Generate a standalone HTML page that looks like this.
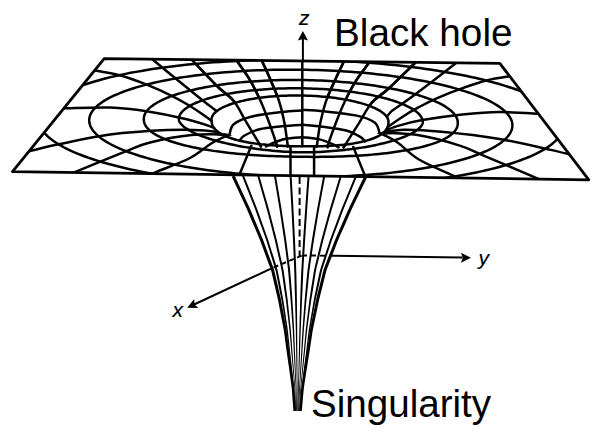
<!DOCTYPE html>
<html><head><meta charset="utf-8"><style>
html,body{margin:0;padding:0;background:#fff;}
body{width:600px;height:437px;position:relative;overflow:hidden;}
svg{position:absolute;left:0;top:0;}
.t{position:absolute;font-family:"Liberation Sans",sans-serif;color:#000;line-height:1;white-space:nowrap;}
.it{font-style:italic;}
.lb{-webkit-text-stroke:0.15px #000;}
</style></head><body>
<svg width="600" height="437" viewBox="0 0 600 437">
<defs><clipPath id="q"><path d="M104.2,58.7 L499.8,63.3 L588.8,179.8 L12.5,171.7 Z"/></clipPath>
<mask id="m"><rect x="0" y="0" width="600" height="437" fill="#fff"/><path d="M387.30,121.75 L387.27,123.01 L387.18,124.00 L387.03,124.90 L386.82,125.75 L386.55,126.56 L386.23,127.34 L385.84,128.09 L385.39,128.82 L384.89,129.53 L384.33,130.22 L383.70,130.89 L383.03,131.55 L382.29,132.19 L381.50,132.81 L380.65,133.42 L379.75,134.01 L378.80,134.58 L377.78,135.14 L376.72,135.69 L375.60,136.22 L374.44,136.73 L373.22,137.23 L371.95,137.71 L370.63,138.18 L369.26,138.63 L367.84,139.07 L366.38,139.50 L364.88,139.90 L363.33,140.29 L361.73,140.67 L360.09,141.03 L358.42,141.38 L356.70,141.71 L354.94,142.02 L353.14,142.32 L351.31,142.60 L349.45,142.87 L347.55,143.12 L345.61,143.36 L343.65,143.58 L341.66,143.78 L339.63,143.97 L337.58,144.15 L335.51,144.31 L333.41,144.46 L331.29,144.59 L329.14,144.70 L326.98,144.81 L324.79,144.89 L322.59,144.97 L320.38,145.03 L318.15,145.08 L315.91,145.12 L313.66,145.15 L311.39,145.16 L309.13,145.16 L306.85,145.16 L304.57,145.15 L302.29,145.13 L300.00,145.10 L297.71,145.07 L295.43,145.04 L293.15,145.00 L290.87,144.95 L288.61,144.89 L286.34,144.82 L284.09,144.74 L281.85,144.65 L279.62,144.54 L277.41,144.43 L275.21,144.30 L273.02,144.16 L270.86,144.00 L268.71,143.84 L266.59,143.65 L264.49,143.46 L262.42,143.25 L260.37,143.02 L258.34,142.78 L256.35,142.53 L254.39,142.26 L252.45,141.98 L250.55,141.68 L248.69,141.37 L246.86,141.04 L245.06,140.70 L243.30,140.35 L241.58,139.98 L239.91,139.59 L238.27,139.19 L236.67,138.77 L235.12,138.35 L233.62,137.90 L232.16,137.44 L230.74,136.97 L229.37,136.49 L228.05,135.99 L226.78,135.47 L225.56,134.94 L224.40,134.40 L223.28,133.84 L222.22,133.27 L221.20,132.69 L220.25,132.09 L219.35,131.48 L218.50,130.85 L217.71,130.21 L216.97,129.56 L216.30,128.89 L215.67,128.20 L215.11,127.50 L214.61,126.77 L214.16,126.03 L213.77,125.27 L213.45,124.48 L213.18,123.67 L212.97,122.81 L212.82,121.91 L212.73,120.92 L212.70,119.65 L212.73,119.02 L212.82,118.40 L212.97,117.77 L213.18,117.15 L213.45,116.53 L213.77,115.91 L214.16,115.30 L214.61,114.69 L215.11,114.08 L215.67,113.48 L216.30,112.88 L216.97,112.29 L217.71,111.70 L218.50,111.12 L219.35,110.55 L220.25,109.98 L221.20,109.42 L222.22,108.87 L223.28,108.33 L224.40,107.79 L225.56,107.27 L226.78,106.75 L228.05,106.24 L229.37,105.75 L230.74,105.26 L232.16,104.78 L233.62,104.32 L235.12,103.86 L236.67,103.42 L238.27,102.99 L239.91,102.57 L241.58,102.16 L243.30,101.77 L245.06,101.39 L246.86,101.02 L248.69,100.67 L250.55,100.33 L252.45,100.00 L254.39,99.69 L256.35,99.39 L258.34,99.11 L260.37,98.84 L262.42,98.59 L264.49,98.35 L266.59,98.13 L268.71,97.92 L270.86,97.73 L273.02,97.55 L275.21,97.39 L277.41,97.25 L279.62,97.12 L281.85,97.01 L284.09,96.91 L286.34,96.83 L288.61,96.77 L290.87,96.72 L293.15,96.69 L295.43,96.68 L297.71,96.68 L300.00,96.70 L302.29,96.74 L304.57,96.79 L306.85,96.86 L309.13,96.94 L311.39,97.04 L313.66,97.16 L315.91,97.29 L318.15,97.44 L320.38,97.61 L322.59,97.79 L324.79,97.99 L326.98,98.20 L329.14,98.43 L331.29,98.67 L333.41,98.93 L335.51,99.20 L337.58,99.49 L339.63,99.79 L341.66,100.11 L343.65,100.44 L345.61,100.78 L347.55,101.14 L349.45,101.51 L351.31,101.90 L353.14,102.30 L354.94,102.71 L356.70,103.13 L358.42,103.57 L360.09,104.01 L361.73,104.47 L363.33,104.94 L364.88,105.42 L366.38,105.91 L367.84,106.41 L369.26,106.92 L370.63,107.44 L371.95,107.97 L373.22,108.51 L374.44,109.05 L375.60,109.61 L376.72,110.17 L377.78,110.74 L378.80,111.31 L379.75,111.90 L380.65,112.48 L381.50,113.08 L382.29,113.68 L383.03,114.28 L383.70,114.89 L384.33,115.50 L384.89,116.12 L385.39,116.73 L385.84,117.36 L386.23,117.98 L386.55,118.61 L386.82,119.23 L387.03,119.86 L387.18,120.49 L387.27,121.12 L387.30,121.75 Z" fill="#000"/></mask></defs>
<g fill="none" stroke="#000" stroke-width="2.5" stroke-linecap="round" stroke-linejoin="round">
<g clip-path="url(#q)"><g mask="url(#m)">
<path d="M562.80,125.94 L562.71,127.62 L562.44,129.29 L561.99,130.96 L561.36,132.62 L560.56,134.27 L559.57,135.92 L558.41,137.55 L557.07,139.18 L555.56,140.80 L553.87,142.40 L552.01,143.99 L549.98,145.57 L547.77,147.13 L545.40,148.67 L542.86,150.20 L540.15,151.70 L537.28,153.19 L534.24,154.66 L531.05,156.10 L527.70,157.52 L524.19,158.92 L520.53,160.29 L516.72,161.64 L512.76,162.96 L508.66,164.26 L504.41,165.52 L500.03,166.76 L495.50,167.96 L490.85,169.14 L486.06,170.28 L481.15,171.39 L476.11,172.47 L470.96,173.51 L465.68,174.52 L460.30,175.49 L454.80,176.43 L449.20,177.32 L443.50,178.19 L437.69,179.01 L431.80,179.80 L425.82,180.54 L419.75,181.25 L413.59,181.92 L407.37,182.55 L401.06,183.13 L394.69,183.68 L388.26,184.18 L381.76,184.64 L375.21,185.06 L368.61,185.43 L361.96,185.77 L355.27,186.06 L348.55,186.30 L341.79,186.50 L335.00,186.66 L328.19,186.78 L321.36,186.85 L314.51,186.88 L307.66,186.86 L300.80,186.80 L293.94,186.70 L287.09,186.55 L280.24,186.36 L273.41,186.12 L266.60,185.84 L259.81,185.52 L253.05,185.16 L246.33,184.75 L239.64,184.30 L232.99,183.81 L226.39,183.27 L219.84,182.70 L213.34,182.08 L206.91,181.42 L200.54,180.73 L194.23,179.99 L188.01,179.21 L181.85,178.40 L175.78,177.54 L169.80,176.65 L163.91,175.73 L158.10,174.76 L152.40,173.76 L146.80,172.73 L141.30,171.66 L135.92,170.56 L130.64,169.42 L125.49,168.26 L120.45,167.06 L115.54,165.83 L110.75,164.57 L106.10,163.29 L101.57,161.97 L97.19,160.63 L92.94,159.27 L88.84,157.87 L84.88,156.46 L81.07,155.02 L77.41,153.56 L73.90,152.08 L70.55,150.58 L67.36,149.05 L64.32,147.51 L61.45,145.96 L58.74,144.39 L56.20,142.80 L53.83,141.20 L51.62,139.59 L49.59,137.96 L47.73,136.33 L46.04,134.68 L44.53,133.03 L43.19,131.37 L42.03,129.71 L41.04,128.04 L40.24,126.36 L39.61,124.69 L39.16,123.01 L38.89,121.33 L38.80,119.66 L38.89,118.01 L39.16,116.36 L39.61,114.72 L40.24,113.09 L41.04,111.46 L42.03,109.84 L43.19,108.23 L44.53,106.63 L46.04,105.04 L47.73,103.46 L49.59,101.89 L51.62,100.34 L53.83,98.81 L56.20,97.29 L58.74,95.79 L61.45,94.30 L64.32,92.84 L67.36,91.40 L70.55,89.98 L73.90,88.58 L77.41,87.20 L81.07,85.85 L84.88,84.53 L88.84,83.23 L92.94,81.95 L97.19,80.71 L101.57,79.49 L106.10,78.31 L110.75,77.15 L115.54,76.03 L120.45,74.94 L125.49,73.88 L130.64,72.85 L135.92,71.86 L141.30,70.90 L146.80,69.98 L152.40,69.10 L158.10,68.25 L163.91,67.44 L169.80,66.67 L175.78,65.93 L181.85,65.24 L188.01,64.58 L194.23,63.97 L200.54,63.39 L206.91,62.86 L213.34,62.36 L219.84,61.91 L226.39,61.50 L232.99,61.13 L239.64,60.81 L246.33,60.52 L253.05,60.28 L259.81,60.08 L266.60,59.93 L273.41,59.82 L280.24,59.75 L287.09,59.72 L293.94,59.74 L300.80,59.80 L307.66,59.90 L314.51,60.05 L321.36,60.24 L328.19,60.47 L335.00,60.75 L341.79,61.07 L348.55,61.43 L355.27,61.83 L361.96,62.27 L368.61,62.76 L375.21,63.29 L381.76,63.85 L388.26,64.46 L394.69,65.11 L401.06,65.80 L407.37,66.53 L413.59,67.29 L419.75,68.09 L425.82,68.93 L431.80,69.81 L437.69,70.73 L443.50,71.68 L449.20,72.66 L454.80,73.68 L460.30,74.73 L465.68,75.82 L470.96,76.94 L476.11,78.09 L481.15,79.27 L486.06,80.48 L490.85,81.71 L495.50,82.98 L500.03,84.28 L504.41,85.60 L508.66,86.94 L512.76,88.31 L516.72,89.71 L520.53,91.12 L524.19,92.56 L527.70,94.02 L531.05,95.50 L534.24,97.00 L537.28,98.52 L540.15,100.05 L542.86,101.60 L545.40,103.16 L547.77,104.73 L549.98,106.32 L552.01,107.92 L553.87,109.53 L555.56,111.15 L557.07,112.78 L558.41,114.41 L559.57,116.05 L560.56,117.69 L561.36,119.34 L561.99,120.99 L562.44,122.64 L562.71,124.29 L562.80,125.94 Z"/>
<path d="M512.40,125.34 L512.33,126.75 L512.11,128.16 L511.75,129.57 L511.24,130.97 L510.59,132.37 L509.79,133.76 L508.86,135.14 L507.78,136.51 L506.55,137.88 L505.19,139.23 L503.69,140.57 L502.04,141.90 L500.26,143.22 L498.35,144.52 L496.29,145.81 L494.11,147.08 L491.79,148.34 L489.34,149.58 L486.76,150.80 L484.05,152.00 L481.22,153.18 L478.26,154.34 L475.19,155.48 L471.99,156.59 L468.67,157.69 L465.24,158.76 L461.70,159.80 L458.05,160.82 L454.29,161.81 L450.42,162.78 L446.46,163.72 L442.39,164.63 L438.22,165.51 L433.96,166.36 L429.61,167.19 L425.18,167.98 L420.65,168.74 L416.05,169.47 L411.36,170.17 L406.60,170.83 L401.77,171.47 L396.86,172.07 L391.90,172.63 L386.87,173.16 L381.78,173.66 L376.63,174.12 L371.43,174.55 L366.19,174.94 L360.90,175.30 L355.57,175.62 L350.20,175.90 L344.79,176.15 L339.36,176.36 L333.90,176.53 L328.42,176.67 L322.92,176.77 L317.40,176.83 L311.87,176.86 L306.34,176.85 L300.80,176.80 L295.26,176.72 L289.73,176.59 L284.20,176.43 L278.68,176.24 L273.18,176.01 L267.70,175.74 L262.24,175.43 L256.81,175.09 L251.40,174.72 L246.03,174.30 L240.70,173.86 L235.41,173.37 L230.17,172.86 L224.97,172.30 L219.82,171.72 L214.73,171.10 L209.70,170.45 L204.74,169.76 L199.83,169.04 L195.00,168.30 L190.24,167.52 L185.55,166.71 L180.95,165.86 L176.42,164.99 L171.99,164.10 L167.64,163.17 L163.38,162.21 L159.21,161.23 L155.14,160.22 L151.18,159.19 L147.31,158.13 L143.55,157.05 L139.90,155.94 L136.36,154.81 L132.93,153.66 L129.61,152.49 L126.41,151.29 L123.34,150.08 L120.38,148.85 L117.55,147.60 L114.84,146.34 L112.26,145.05 L109.81,143.76 L107.49,142.44 L105.31,141.12 L103.25,139.78 L101.34,138.43 L99.56,137.07 L97.91,135.70 L96.41,134.32 L95.05,132.94 L93.82,131.54 L92.74,130.14 L91.81,128.74 L91.01,127.33 L90.36,125.92 L89.85,124.51 L89.49,123.09 L89.27,121.68 L89.20,120.26 L89.27,118.87 L89.49,117.49 L89.85,116.10 L90.36,114.72 L91.01,113.35 L91.81,111.99 L92.74,110.63 L93.82,109.28 L95.05,107.94 L96.41,106.60 L97.91,105.28 L99.56,103.98 L101.34,102.68 L103.25,101.40 L105.31,100.13 L107.49,98.88 L109.81,97.65 L112.26,96.43 L114.84,95.23 L117.55,94.05 L120.38,92.89 L123.34,91.75 L126.41,90.63 L129.61,89.53 L132.93,88.46 L136.36,87.41 L139.90,86.38 L143.55,85.38 L147.31,84.41 L151.18,83.46 L155.14,82.53 L159.21,81.64 L163.38,80.77 L167.64,79.94 L171.99,79.13 L176.42,78.35 L180.95,77.60 L185.55,76.88 L190.24,76.20 L195.00,75.54 L199.83,74.92 L204.74,74.33 L209.70,73.78 L214.73,73.26 L219.82,72.77 L224.97,72.32 L230.17,71.90 L235.41,71.51 L240.70,71.17 L246.03,70.85 L251.40,70.57 L256.81,70.33 L262.24,70.13 L267.70,69.96 L273.18,69.82 L278.68,69.73 L284.20,69.66 L289.73,69.64 L295.26,69.65 L300.80,69.70 L306.34,69.78 L311.87,69.91 L317.40,70.06 L322.92,70.26 L328.42,70.49 L333.90,70.75 L339.36,71.05 L344.79,71.39 L350.20,71.76 L355.57,72.17 L360.90,72.61 L366.19,73.08 L371.43,73.59 L376.63,74.14 L381.78,74.71 L386.87,75.32 L391.90,75.97 L396.86,76.64 L401.77,77.35 L406.60,78.08 L411.36,78.85 L416.05,79.65 L420.65,80.48 L425.18,81.33 L429.61,82.22 L433.96,83.13 L438.22,84.07 L442.39,85.04 L446.46,86.03 L450.42,87.05 L454.29,88.09 L458.05,89.16 L461.70,90.25 L465.24,91.36 L468.67,92.49 L471.99,93.64 L475.19,94.82 L478.26,96.01 L481.22,97.22 L484.05,98.45 L486.76,99.69 L489.34,100.96 L491.79,102.23 L494.11,103.52 L496.29,104.83 L498.35,106.14 L500.26,107.47 L502.04,108.81 L503.69,110.15 L505.19,111.51 L506.55,112.87 L507.78,114.24 L508.86,115.62 L509.79,117.00 L510.59,118.39 L511.24,119.77 L511.75,121.17 L512.11,122.56 L512.33,123.95 L512.40,125.34 Z"/>
<path d="M457.80,122.68 L457.75,124.05 L457.58,125.25 L457.32,126.40 L456.94,127.50 L456.46,128.57 L455.87,129.62 L455.17,130.64 L454.37,131.65 L453.46,132.64 L452.45,133.60 L451.33,134.56 L450.12,135.49 L448.79,136.40 L447.37,137.30 L445.85,138.19 L444.23,139.05 L442.51,139.90 L440.69,140.72 L438.77,141.53 L436.77,142.33 L434.66,143.10 L432.47,143.86 L430.19,144.59 L427.82,145.31 L425.36,146.01 L422.81,146.68 L420.18,147.34 L417.47,147.98 L414.68,148.59 L411.82,149.19 L408.87,149.76 L405.85,150.31 L402.76,150.85 L399.60,151.35 L396.38,151.84 L393.08,152.31 L389.73,152.75 L386.31,153.17 L382.83,153.57 L379.30,153.94 L375.71,154.29 L372.08,154.62 L368.39,154.93 L364.66,155.21 L360.88,155.47 L357.06,155.71 L353.21,155.93 L349.32,156.12 L345.39,156.29 L341.43,156.44 L337.45,156.57 L333.44,156.67 L329.41,156.75 L325.36,156.82 L321.29,156.86 L317.21,156.88 L313.12,156.89 L309.02,156.87 L304.91,156.84 L300.80,156.80 L296.69,156.75 L292.58,156.68 L288.48,156.59 L284.39,156.49 L280.31,156.37 L276.24,156.23 L272.19,156.07 L268.16,155.89 L264.15,155.69 L260.17,155.46 L256.21,155.22 L252.28,154.96 L248.39,154.67 L244.54,154.36 L240.72,154.03 L236.94,153.68 L233.21,153.31 L229.52,152.91 L225.89,152.50 L222.30,152.06 L218.77,151.60 L215.29,151.12 L211.87,150.62 L208.52,150.09 L205.22,149.55 L202.00,148.98 L198.84,148.40 L195.75,147.79 L192.73,147.17 L189.78,146.52 L186.92,145.86 L184.13,145.18 L181.42,144.48 L178.79,143.76 L176.24,143.02 L173.78,142.26 L171.41,141.49 L169.13,140.70 L166.94,139.89 L164.83,139.06 L162.83,138.22 L160.91,137.37 L159.09,136.49 L157.37,135.61 L155.75,134.70 L154.23,133.79 L152.81,132.85 L151.48,131.91 L150.27,130.94 L149.15,129.97 L148.14,128.97 L147.23,127.96 L146.43,126.94 L145.73,125.90 L145.14,124.83 L144.66,123.75 L144.28,122.64 L144.02,121.49 L143.85,120.29 L143.80,118.92 L143.85,117.85 L144.02,116.78 L144.28,115.72 L144.66,114.66 L145.14,113.61 L145.73,112.56 L146.43,111.51 L147.23,110.47 L148.14,109.44 L149.15,108.42 L150.27,107.41 L151.48,106.40 L152.81,105.40 L154.23,104.42 L155.75,103.45 L157.37,102.48 L159.09,101.53 L160.91,100.60 L162.83,99.68 L164.83,98.77 L166.94,97.88 L169.13,97.00 L171.41,96.14 L173.78,95.29 L176.24,94.47 L178.79,93.66 L181.42,92.87 L184.13,92.10 L186.92,91.35 L189.78,90.62 L192.73,89.91 L195.75,89.22 L198.84,88.55 L202.00,87.91 L205.22,87.28 L208.52,86.68 L211.87,86.11 L215.29,85.56 L218.77,85.03 L222.30,84.52 L225.89,84.05 L229.52,83.59 L233.21,83.16 L236.94,82.76 L240.72,82.38 L244.54,82.03 L248.39,81.71 L252.28,81.41 L256.21,81.15 L260.17,80.90 L264.15,80.69 L268.16,80.50 L272.19,80.34 L276.24,80.21 L280.31,80.10 L284.39,80.03 L288.48,79.98 L292.58,79.96 L296.69,79.96 L300.80,80.00 L304.91,80.06 L309.02,80.15 L313.12,80.27 L317.21,80.42 L321.29,80.59 L325.36,80.80 L329.41,81.03 L333.44,81.28 L337.45,81.57 L341.43,81.88 L345.39,82.22 L349.32,82.58 L353.21,82.97 L357.06,83.39 L360.88,83.83 L364.66,84.29 L368.39,84.79 L372.08,85.30 L375.71,85.84 L379.30,86.41 L382.83,87.00 L386.31,87.61 L389.73,88.24 L393.08,88.90 L396.38,89.58 L399.60,90.28 L402.76,91.00 L405.85,91.74 L408.87,92.50 L411.82,93.28 L414.68,94.08 L417.47,94.90 L420.18,95.74 L422.81,96.59 L425.36,97.46 L427.82,98.34 L430.19,99.24 L432.47,100.16 L434.66,101.09 L436.77,102.03 L438.77,102.99 L440.69,103.96 L442.51,104.94 L444.23,105.93 L445.85,106.93 L447.37,107.94 L448.79,108.96 L450.12,109.98 L451.33,111.02 L452.45,112.06 L453.46,113.11 L454.37,114.16 L455.17,115.22 L455.87,116.28 L456.46,117.34 L456.94,118.41 L457.32,119.48 L457.58,120.55 L457.75,121.62 L457.80,122.68 Z"/>
<path d="M422.80,122.16 L422.76,122.68 L422.63,123.29 L422.42,123.92 L422.13,124.58 L421.76,125.26 L421.30,125.94 L420.76,126.64 L420.13,127.34 L419.43,128.05 L418.64,128.76 L417.78,129.48 L416.83,130.20 L415.80,130.92 L414.70,131.63 L413.51,132.35 L412.25,133.06 L410.92,133.77 L409.50,134.48 L408.02,135.18 L406.46,135.87 L404.82,136.56 L403.12,137.24 L401.34,137.91 L399.50,138.58 L397.59,139.24 L395.61,139.88 L393.57,140.52 L391.46,141.15 L389.30,141.76 L387.07,142.36 L384.78,142.95 L382.43,143.53 L380.03,144.09 L377.58,144.64 L375.07,145.18 L372.51,145.70 L369.90,146.20 L367.25,146.69 L364.54,147.16 L361.80,147.61 L359.01,148.05 L356.19,148.47 L353.32,148.87 L350.42,149.25 L347.49,149.61 L344.52,149.95 L341.52,150.27 L338.50,150.57 L335.45,150.85 L332.38,151.11 L329.28,151.34 L326.17,151.55 L323.03,151.74 L319.89,151.90 L316.72,152.04 L313.55,152.15 L310.37,152.23 L307.18,152.29 L303.99,152.31 L300.80,152.30 L297.61,152.24 L294.42,152.14 L291.23,152.00 L288.05,151.84 L284.88,151.66 L281.71,151.44 L278.57,151.20 L275.43,150.94 L272.32,150.66 L269.22,150.35 L266.15,150.02 L263.10,149.67 L260.08,149.29 L257.08,148.90 L254.11,148.49 L251.18,148.06 L248.28,147.61 L245.41,147.14 L242.59,146.65 L239.80,146.15 L237.06,145.63 L234.35,145.09 L231.70,144.54 L229.09,143.98 L226.53,143.40 L224.02,142.80 L221.57,142.19 L219.17,141.57 L216.82,140.94 L214.53,140.29 L212.30,139.64 L210.14,138.97 L208.03,138.29 L205.99,137.61 L204.01,136.91 L202.10,136.21 L200.26,135.50 L198.48,134.79 L196.78,134.06 L195.14,133.33 L193.58,132.60 L192.10,131.87 L190.68,131.13 L189.35,130.39 L188.09,129.64 L186.90,128.90 L185.80,128.16 L184.77,127.41 L183.82,126.67 L182.96,125.94 L182.17,125.20 L181.47,124.48 L180.84,123.76 L180.30,123.05 L179.84,122.35 L179.47,121.67 L179.18,121.00 L178.97,120.36 L178.84,119.76 L178.80,119.24 L178.84,118.39 L178.97,117.54 L179.18,116.70 L179.47,115.86 L179.84,115.02 L180.30,114.19 L180.84,113.36 L181.47,112.53 L182.17,111.71 L182.96,110.90 L183.82,110.09 L184.77,109.30 L185.80,108.50 L186.90,107.72 L188.09,106.95 L189.35,106.18 L190.68,105.43 L192.10,104.69 L193.58,103.95 L195.14,103.23 L196.78,102.52 L198.48,101.83 L200.26,101.14 L202.10,100.47 L204.01,99.81 L205.99,99.17 L208.03,98.54 L210.14,97.93 L212.30,97.34 L214.53,96.75 L216.82,96.19 L219.17,95.64 L221.57,95.11 L224.02,94.60 L226.53,94.10 L229.09,93.63 L231.70,93.17 L234.35,92.73 L237.06,92.31 L239.80,91.91 L242.59,91.53 L245.41,91.17 L248.28,90.83 L251.18,90.51 L254.11,90.21 L257.08,89.93 L260.08,89.67 L263.10,89.43 L266.15,89.22 L269.22,89.03 L272.32,88.85 L275.43,88.70 L278.57,88.58 L281.71,88.47 L284.88,88.39 L288.05,88.32 L291.23,88.29 L294.42,88.27 L297.61,88.27 L300.80,88.30 L303.99,88.35 L307.18,88.42 L310.37,88.51 L313.55,88.63 L316.72,88.77 L319.89,88.93 L323.03,89.11 L326.17,89.31 L329.28,89.54 L332.38,89.78 L335.45,90.05 L338.50,90.34 L341.52,90.65 L344.52,90.98 L347.49,91.33 L350.42,91.70 L353.32,92.09 L356.19,92.50 L359.01,92.92 L361.80,93.37 L364.54,93.84 L367.25,94.32 L369.90,94.83 L372.51,95.35 L375.07,95.89 L377.58,96.44 L380.03,97.01 L382.43,97.60 L384.78,98.21 L387.07,98.82 L389.30,99.46 L391.46,100.11 L393.57,100.77 L395.61,101.45 L397.59,102.14 L399.50,102.84 L401.34,103.55 L403.12,104.28 L404.82,105.02 L406.46,105.77 L408.02,106.53 L409.50,107.30 L410.92,108.07 L412.25,108.86 L413.51,109.65 L414.70,110.46 L415.80,111.26 L416.83,112.08 L417.78,112.90 L418.64,113.73 L419.43,114.56 L420.13,115.40 L420.76,116.24 L421.30,117.08 L421.76,117.92 L422.13,118.77 L422.42,119.62 L422.63,120.47 L422.76,121.32 L422.80,122.16 Z"/>
<path d="M141.5,50.4 C143.3,51.9 145.7,53.9 152.3,59.3 C158.9,64.7 172.6,76.0 181.2,83.0 C189.8,90.0 197.9,96.6 204.0,101.5 C210.1,106.4 214.7,109.1 218.0,112.5 C221.3,115.9 222.1,118.3 224.0,122.0 C225.9,125.7 228.6,132.4 229.5,134.5"/>
<path d="M467.1,54.4 C465.3,55.8 462.8,57.7 456.1,62.9 C449.3,68.2 435.3,79.1 426.6,85.7 C418.0,92.3 410.0,98.2 404.0,102.6 C398.0,107.0 393.6,109.2 390.4,112.3 C387.2,115.3 386.6,117.4 384.8,120.9 C383.0,124.3 380.4,130.8 379.5,132.8"/>
<path d="M83.0,68.1 C85.3,68.5 90.2,69.5 96.7,70.8 C103.2,72.1 113.4,73.5 121.7,75.8 C130.0,78.1 138.4,81.4 146.7,84.7 C155.0,88.0 164.8,92.4 171.7,95.8 C178.6,99.2 182.8,101.6 188.3,105.0 C193.9,108.4 198.1,111.1 205.0,116.0 C211.9,120.9 225.4,131.4 229.5,134.5"/>
<path d="M526.8,73.4 C524.5,73.8 519.6,74.7 513.0,75.8 C506.5,76.9 496.0,78.1 487.4,80.2 C478.9,82.3 470.4,85.3 461.9,88.4 C453.4,91.4 443.5,95.4 436.6,98.4 C429.6,101.5 425.5,103.6 420.1,106.5 C414.6,109.5 410.5,111.6 403.8,116.0 C397.0,120.4 383.5,130.0 379.5,132.8"/>
<path d="M51.8,108.6 C54.1,108.5 56.1,108.5 65.8,108.3 C75.5,108.1 96.5,107.0 110.0,107.5 C123.5,108.0 133.9,109.3 146.7,111.3 C159.5,113.3 175.8,116.7 186.7,119.3 C197.6,121.9 204.9,124.5 212.0,127.0 C219.1,129.5 226.6,133.2 229.5,134.5"/>
<path d="M558.7,114.6 C556.4,114.5 554.6,114.5 544.7,114.0 C534.8,113.6 513.2,112.0 499.5,112.1 C485.7,112.2 475.1,113.2 462.2,114.5 C449.3,115.9 433.1,118.2 422.3,120.1 C411.4,122.0 404.3,124.0 397.2,126.1 C390.0,128.2 382.4,131.7 379.5,132.8"/>
<path d="M17.2,154.0 C19.4,153.4 23.7,152.5 30.8,150.8 C37.9,149.1 46.8,146.7 60.0,144.0 C73.2,141.3 92.1,136.8 110.0,134.5 C127.9,132.2 151.7,130.7 167.5,130.0 C183.3,129.3 194.7,129.8 205.0,130.5 C215.3,131.2 225.4,133.8 229.5,134.5"/>
<path d="M594.2,160.8 C591.9,160.2 587.8,159.2 580.6,157.4 C573.3,155.6 564.2,152.9 550.7,149.9 C537.2,146.8 517.7,142.0 499.5,139.0 C481.3,136.0 457.5,133.3 441.6,131.8 C425.7,130.2 414.6,129.7 404.3,129.8 C393.9,130.0 383.6,132.3 379.5,132.8"/>
<path d="M63.0,177.0 C65.2,176.1 65.7,175.9 76.0,171.7 C86.3,167.5 112.7,156.6 125.0,151.7 C137.3,146.8 138.9,145.3 150.0,142.5 C161.1,139.7 178.4,136.3 191.7,135.0 C204.9,133.7 223.2,134.6 229.5,134.5"/>
<path d="M547.1,182.7 C545.0,181.8 544.7,181.7 534.3,177.2 C523.8,172.7 496.8,161.1 484.2,155.8 C471.7,150.5 470.1,148.8 459.0,145.4 C447.9,141.9 430.8,137.2 417.6,135.1 C404.3,133.0 385.8,133.2 379.5,132.8"/>
<path d="M142.4,177.6 C144.5,176.7 147.4,175.6 155.3,172.3 C163.2,169.0 180.6,162.9 190.0,158.0 C199.4,153.1 205.4,146.9 212.0,143.0 C218.6,139.1 226.6,135.9 229.5,134.5"/>
<path d="M465.9,181.6 C463.7,180.6 461.1,179.3 453.2,175.6 C445.3,171.9 427.9,164.8 418.5,159.2 C409.2,153.6 403.6,146.6 397.1,142.2 C390.6,137.7 382.4,134.4 379.5,132.8"/>
<path d="M182.3,49.9 C183.9,51.6 186.0,53.8 192.0,60.0 C198.0,66.2 211.0,80.2 218.0,87.0 C225.0,93.8 229.1,95.2 233.8,101.0 C238.5,106.8 241.9,114.8 246.0,121.7 C250.1,128.6 256.0,138.2 258.5,142.3 C261.0,146.4 260.6,145.8 261.0,146.5"/>
<path d="M425.4,53.0 C423.7,54.6 421.6,56.7 415.4,62.7 C409.1,68.7 395.3,82.4 388.1,89.0 C380.8,95.7 376.6,97.0 371.7,102.7 C366.9,108.3 363.3,116.3 359.0,123.1 C354.7,129.8 348.7,139.3 346.1,143.4 C343.6,147.4 344.0,146.8 343.6,147.5"/>
<path d="M229.1,49.4 C230.4,51.3 233.5,55.8 237.0,61.0 C240.5,66.2 246.4,73.9 250.3,80.6 C254.2,87.3 257.5,94.2 260.6,101.0 C263.7,107.8 266.2,114.8 268.8,121.7 C271.4,128.6 274.6,138.2 276.0,142.3 C277.4,146.4 276.8,145.8 277.0,146.5"/>
<path d="M377.4,51.2 C376.1,53.1 372.9,57.5 369.2,62.6 C365.5,67.7 359.4,75.3 355.3,81.9 C351.2,88.4 347.8,95.2 344.6,102.0 C341.3,108.8 338.7,115.7 336.0,122.5 C333.4,129.3 330.0,138.8 328.6,142.9 C327.2,147.0 327.8,146.4 327.6,147.1"/>
<path d="M256.3,48.2 C257.2,50.4 259.6,55.6 262.0,61.0 C264.4,66.4 268.0,73.9 270.8,80.6 C273.6,87.3 276.8,94.2 279.0,101.0 C281.2,107.8 282.8,114.8 284.2,121.7 C285.6,128.6 286.7,138.2 287.3,142.3 C287.9,146.4 287.7,145.8 287.8,146.5"/>
<path d="M349.6,49.3 C348.6,51.4 346.1,56.6 343.6,62.0 C341.1,67.3 337.4,74.8 334.4,81.4 C331.5,88.0 328.2,94.8 325.9,101.6 C323.6,108.4 322.0,115.3 320.5,122.1 C319.1,129.0 317.9,138.5 317.3,142.7 C316.7,146.8 316.9,146.2 316.8,146.8"/>
<path d="M234.0,187.9 C234.9,185.8 236.4,182.0 239.3,175.0 C242.2,168.0 249.3,150.7 251.3,145.8"/>
<path d="M370.6,189.5 C369.7,187.3 368.2,183.6 365.3,176.5 C362.4,169.4 355.3,151.9 353.3,147.0"/>
<path d="M290.5,189.0 C290.5,186.7 290.5,182.2 290.5,175.0 C290.5,167.8 290.5,150.8 290.5,146.0"/>
<path d="M314.1,189.3 C314.1,186.9 314.1,182.4 314.1,175.3 C314.1,168.1 314.1,151.1 314.1,146.3"/>
</g></g>
<path d="M388.50,121.76 L388.47,123.09 L388.38,124.12 L388.23,125.07 L388.02,125.96 L387.74,126.81 L387.41,127.63 L387.02,128.42 L386.57,129.19 L386.05,129.93 L385.48,130.66 L384.86,131.36 L384.17,132.05 L383.42,132.72 L382.62,133.37 L381.76,134.01 L380.85,134.63 L379.88,135.23 L378.85,135.82 L377.78,136.39 L376.64,136.95 L375.46,137.49 L374.22,138.01 L372.94,138.52 L371.60,139.01 L370.21,139.49 L368.78,139.95 L367.30,140.39 L365.77,140.82 L364.20,141.23 L362.58,141.63 L360.92,142.01 L359.22,142.37 L357.48,142.72 L355.69,143.05 L353.88,143.36 L352.02,143.66 L350.13,143.94 L348.20,144.20 L346.24,144.45 L344.25,144.69 L342.23,144.90 L340.18,145.10 L338.10,145.29 L336.00,145.46 L333.87,145.61 L331.72,145.75 L329.54,145.87 L327.35,145.98 L325.14,146.07 L322.91,146.15 L320.66,146.22 L318.40,146.27 L316.13,146.31 L313.84,146.34 L311.55,146.36 L309.25,146.36 L306.94,146.36 L304.63,146.35 L302.32,146.33 L300.00,146.30 L297.68,146.27 L295.37,146.24 L293.06,146.19 L290.75,146.14 L288.45,146.08 L286.16,146.01 L283.87,145.93 L281.60,145.83 L279.34,145.72 L277.09,145.60 L274.86,145.47 L272.65,145.32 L270.46,145.16 L268.28,144.99 L266.13,144.80 L264.00,144.59 L261.90,144.37 L259.82,144.14 L257.77,143.89 L255.75,143.62 L253.76,143.34 L251.80,143.05 L249.87,142.74 L247.98,142.41 L246.12,142.07 L244.31,141.71 L242.52,141.34 L240.78,140.95 L239.08,140.54 L237.42,140.13 L235.80,139.69 L234.23,139.24 L232.70,138.78 L231.22,138.30 L229.79,137.80 L228.40,137.29 L227.06,136.77 L225.78,136.23 L224.54,135.68 L223.36,135.11 L222.22,134.52 L221.15,133.93 L220.12,133.31 L219.15,132.69 L218.24,132.04 L217.38,131.39 L216.58,130.72 L215.83,130.03 L215.14,129.32 L214.52,128.60 L213.95,127.87 L213.43,127.11 L212.98,126.33 L212.59,125.53 L212.26,124.71 L211.98,123.85 L211.77,122.95 L211.62,122.00 L211.53,120.97 L211.50,119.64 L211.53,118.98 L211.62,118.32 L211.77,117.66 L211.98,117.01 L212.26,116.36 L212.59,115.71 L212.98,115.06 L213.43,114.42 L213.95,113.78 L214.52,113.15 L215.14,112.52 L215.83,111.90 L216.58,111.29 L217.38,110.68 L218.24,110.08 L219.15,109.48 L220.12,108.89 L221.15,108.31 L222.22,107.74 L223.36,107.18 L224.54,106.63 L225.78,106.08 L227.06,105.55 L228.40,105.03 L229.79,104.52 L231.22,104.02 L232.70,103.53 L234.23,103.05 L235.80,102.58 L237.42,102.13 L239.08,101.69 L240.78,101.26 L242.52,100.85 L244.31,100.45 L246.12,100.06 L247.98,99.69 L249.87,99.33 L251.80,98.99 L253.76,98.66 L255.75,98.35 L257.77,98.05 L259.82,97.76 L261.90,97.50 L264.00,97.25 L266.13,97.01 L268.28,96.79 L270.46,96.59 L272.65,96.41 L274.86,96.24 L277.09,96.08 L279.34,95.95 L281.60,95.83 L283.87,95.73 L286.16,95.64 L288.45,95.58 L290.75,95.53 L293.06,95.49 L295.37,95.48 L297.68,95.48 L300.00,95.50 L302.32,95.54 L304.63,95.59 L306.94,95.66 L309.25,95.75 L311.55,95.85 L313.84,95.98 L316.13,96.12 L318.40,96.27 L320.66,96.44 L322.91,96.63 L325.14,96.84 L327.35,97.06 L329.54,97.30 L331.72,97.55 L333.87,97.82 L336.00,98.11 L338.10,98.41 L340.18,98.73 L342.23,99.06 L344.25,99.41 L346.24,99.77 L348.20,100.14 L350.13,100.53 L352.02,100.94 L353.88,101.35 L355.69,101.78 L357.48,102.23 L359.22,102.68 L360.92,103.15 L362.58,103.63 L364.20,104.12 L365.77,104.63 L367.30,105.14 L368.78,105.67 L370.21,106.20 L371.60,106.75 L372.94,107.30 L374.22,107.87 L375.46,108.44 L376.64,109.02 L377.78,109.61 L378.85,110.21 L379.88,110.81 L380.85,111.42 L381.76,112.04 L382.62,112.66 L383.42,113.29 L384.17,113.92 L384.86,114.56 L385.48,115.20 L386.05,115.85 L386.57,116.50 L387.02,117.15 L387.41,117.81 L387.74,118.46 L388.02,119.12 L388.23,119.78 L388.38,120.44 L388.47,121.10 L388.50,121.76 Z"/>
<path d="M229.5,134.5 C230.2,132.8 230.2,127.0 234.0,124.0 C237.8,121.0 244.0,118.5 252.0,116.5 C260.0,114.5 273.6,113.0 282.0,112.0 C290.4,111.0 298.9,110.8 302.3,110.5"/>
<path d="M302.8,109.9 C306.3,110.1 315.2,110.4 324.0,111.3 C332.8,112.2 347.2,113.5 355.6,115.4 C364.0,117.2 370.7,119.6 374.7,122.5 C378.6,125.4 378.7,131.1 379.5,132.8"/>
<path d="M240.0,140.0 C240.8,139.2 241.2,137.3 244.5,135.5 C247.8,133.7 253.2,130.8 259.5,129.2 C265.8,127.7 274.9,127.0 282.0,126.2 C289.1,125.5 298.9,125.0 302.3,124.8"/>
<path d="M302.3,124.8 C305.7,125.1 315.5,125.8 322.7,126.7 C329.9,127.7 339.1,128.6 345.3,130.3 C351.6,132.0 357.0,135.0 360.3,136.9 C363.5,138.8 364.0,140.7 364.7,141.5"/>
<path d="M266.0,146.5 C267.0,146.0 268.8,144.8 272.0,143.5 C275.2,142.2 279.9,140.1 285.0,139.0 C290.1,137.9 299.4,137.5 302.3,137.2"/>
<path d="M302.3,137.2 C305.2,137.6 314.6,138.2 319.6,139.4 C324.7,140.6 329.5,142.9 332.6,144.2 C335.8,145.6 337.6,146.8 338.6,147.4"/>
<path d="M192.0,60.0 C196.3,64.5 211.0,80.2 218.0,87.0 C225.0,93.8 229.1,95.2 233.8,101.0 C238.5,106.8 241.9,114.8 246.0,121.7 C250.1,128.6 256.0,138.2 258.5,142.3 C261.0,146.4 260.6,145.8 261.0,146.5"/>
<path d="M415.4,62.7 C410.8,67.1 395.3,82.4 388.1,89.0 C380.8,95.7 376.6,97.0 371.7,102.7 C366.9,108.3 363.3,116.3 359.0,123.1 C354.7,129.8 348.7,139.3 346.1,143.4 C343.6,147.4 344.0,146.8 343.6,147.5"/>
<path d="M237.0,61.0 C239.2,64.3 246.4,73.9 250.3,80.6 C254.2,87.3 257.5,94.2 260.6,101.0 C263.7,107.8 266.2,114.8 268.8,121.7 C271.4,128.6 274.6,138.2 276.0,142.3 C277.4,146.4 276.8,145.8 277.0,146.5"/>
<path d="M369.2,62.6 C366.9,65.8 359.4,75.3 355.3,81.9 C351.2,88.4 347.8,95.2 344.6,102.0 C341.3,108.8 338.7,115.7 336.0,122.5 C333.4,129.3 330.0,138.8 328.6,142.9 C327.2,147.0 327.8,146.4 327.6,147.1"/>
<path d="M262.0,61.0 C263.5,64.3 268.0,73.9 270.8,80.6 C273.6,87.3 276.8,94.2 279.0,101.0 C281.2,107.8 282.8,114.8 284.2,121.7 C285.6,128.6 286.7,138.2 287.3,142.3 C287.9,146.4 287.7,145.8 287.8,146.5"/>
<path d="M343.6,62.0 C342.1,65.2 337.4,74.8 334.4,81.4 C331.5,88.0 328.2,94.8 325.9,101.6 C323.6,108.4 322.0,115.3 320.5,122.1 C319.1,129.0 317.9,138.5 317.3,142.7 C316.7,146.8 316.9,146.2 316.8,146.8"/>
<path d="M302.3,61 L302.3,146"/>
<path d="M104.2,58.7 L499.8,63.3 L588.8,179.8 L12.5,171.7 Z" stroke-width="2.8"/>
<path d="M216.00,133.00 L226.00,133.20 L232.50,135.20 L226.00,136.40 L217.00,135.20 Z" fill="#000" stroke="none"/>
<path d="M393.24,131.76 L383.08,131.60 L376.42,133.43 L383.07,134.81 L392.23,133.92 Z" fill="#000" stroke="none"/>
</g>
<g fill="#000" stroke="none">
<path d="M234.46,175.37 L236.32,179.35 L238.17,183.33 L240.03,187.32 L241.89,191.30 L243.74,195.28 L245.60,199.26 L247.46,203.25 L249.32,207.25 L251.08,211.25 L252.76,215.25 L254.44,219.23 L256.12,223.21 L257.79,227.20 L259.47,231.18 L261.15,235.16 L262.84,239.18 L264.33,243.19 L265.80,247.18 L267.26,251.16 L268.73,255.14 L270.20,259.13 L271.66,263.11 L273.14,267.13 L274.42,271.20 L275.35,275.24 L276.27,279.22 L277.20,283.20 L278.12,287.19 L279.04,291.17 L279.96,295.15 L280.88,299.17 L281.64,303.18 L282.38,307.17 L283.11,311.16 L283.85,315.14 L284.58,319.13 L285.32,323.11 L286.06,327.11 L286.72,331.14 L287.23,335.15 L287.74,339.13 L288.25,343.11 L288.76,347.10 L289.28,351.07 L289.83,355.05 L290.38,359.04 L290.93,363.02 L291.48,367.01 L292.01,371.00 L292.53,374.99 L293.05,378.97 L293.58,382.95 L294.10,386.97 L294.43,390.99 L294.71,394.98 L294.98,398.97 L295.25,402.95 L295.52,406.93 L295.80,410.92 L293.40,411.08 L293.12,407.10 L292.84,403.12 L292.55,399.14 L292.27,395.15 L291.99,391.18 L291.65,387.24 L291.11,383.28 L290.57,379.30 L290.03,375.32 L289.48,371.34 L288.93,367.36 L288.36,363.38 L287.79,359.40 L287.23,355.42 L286.66,351.43 L286.11,347.45 L285.58,343.46 L285.05,339.48 L284.53,335.50 L284.00,331.54 L283.33,327.60 L282.57,323.63 L281.80,319.65 L281.04,315.67 L280.28,311.69 L279.51,307.71 L278.75,303.73 L277.97,299.78 L277.04,295.83 L276.12,291.85 L275.20,287.86 L274.27,283.88 L273.35,279.90 L272.43,275.91 L271.52,271.99 L270.30,268.09 L268.85,264.15 L267.38,260.16 L265.91,256.18 L264.45,252.20 L262.98,248.21 L261.52,244.23 L260.05,240.28 L258.38,236.33 L256.70,232.34 L255.03,228.36 L253.35,224.38 L251.67,220.40 L250.00,216.41 L248.33,212.44 L246.59,208.48 L244.74,204.52 L242.88,200.53 L241.02,196.55 L239.17,192.57 L237.31,188.58 L235.45,184.60 L233.60,180.62 L231.74,176.63 Z"/>
<path d="M244.01,175.63 L245.58,179.62 L247.15,183.60 L248.72,187.58 L250.30,191.56 L251.87,195.55 L253.44,199.53 L255.02,203.51 L256.59,207.51 L258.08,211.51 L259.50,215.49 L260.92,219.48 L262.34,223.46 L263.76,227.44 L265.19,231.43 L266.61,235.41 L268.03,239.41 L269.29,243.41 L270.53,247.40 L271.77,251.38 L273.02,255.36 L274.26,259.35 L275.50,263.33 L276.75,267.33 L277.82,271.37 L278.60,275.38 L279.38,279.37 L280.16,283.35 L280.94,287.33 L281.69,291.32 L282.43,295.31 L283.18,299.31 L283.81,303.32 L284.42,307.31 L285.02,311.29 L285.63,315.28 L286.23,319.27 L286.84,323.26 L287.44,327.25 L287.98,331.25 L288.40,335.25 L288.81,339.23 L289.23,343.22 L289.64,347.20 L290.07,351.19 L290.51,355.17 L290.96,359.16 L291.40,363.14 L291.85,367.13 L292.28,371.12 L292.70,375.10 L293.12,379.09 L293.57,383.07 L294.01,387.07 L294.29,391.06 L294.53,395.04 L294.76,399.03 L294.99,403.01 L295.22,406.99 L295.45,410.98 L294.65,411.02 L294.42,407.04 L294.19,403.06 L293.96,399.07 L293.73,395.09 L293.50,391.11 L293.22,387.14 L292.77,383.16 L292.32,379.18 L291.84,375.20 L291.37,371.22 L290.89,367.24 L290.39,363.26 L289.90,359.28 L289.41,355.30 L288.91,351.32 L288.44,347.34 L287.98,343.36 L287.53,339.38 L287.07,335.39 L286.62,331.42 L286.03,327.46 L285.37,323.49 L284.71,319.51 L284.05,315.53 L283.39,311.55 L282.73,307.57 L282.07,303.60 L281.40,299.63 L280.59,295.67 L279.78,291.69 L278.97,287.72 L278.20,283.73 L277.42,279.75 L276.64,275.77 L275.87,271.82 L274.82,267.89 L273.59,263.92 L272.35,259.94 L271.11,255.96 L269.87,251.98 L268.62,247.99 L267.38,244.01 L266.14,240.05 L264.72,236.08 L263.30,232.10 L261.88,228.12 L260.46,224.13 L259.04,220.15 L257.62,216.17 L256.20,212.19 L254.73,208.22 L253.16,204.25 L251.58,200.27 L250.01,196.28 L248.44,192.30 L246.86,188.32 L245.29,184.33 L243.72,180.35 L242.14,176.37 Z"/>
<path d="M259.33,175.73 L260.47,179.71 L261.61,183.69 L262.75,187.67 L263.88,191.66 L265.02,195.64 L266.16,199.62 L267.30,203.61 L268.44,207.60 L269.52,211.59 L270.54,215.58 L271.57,219.56 L272.60,223.55 L273.62,227.53 L274.65,231.51 L275.68,235.50 L276.71,239.49 L277.62,243.49 L278.51,247.48 L279.41,251.46 L280.31,255.44 L281.20,259.42 L282.10,263.41 L283.00,267.41 L283.77,271.43 L284.33,275.44 L284.89,279.42 L285.45,283.40 L286.00,287.39 L286.53,291.37 L287.06,295.36 L287.59,299.36 L288.03,303.36 L288.46,307.34 L288.88,311.33 L289.31,315.32 L289.73,319.30 L290.15,323.29 L290.58,327.28 L290.96,331.28 L291.24,335.27 L291.53,339.26 L291.82,343.24 L292.11,347.22 L292.40,351.21 L292.71,355.19 L293.02,359.18 L293.33,363.16 L293.64,367.15 L293.94,371.13 L294.23,375.12 L294.52,379.10 L294.83,383.09 L295.15,387.08 L295.34,391.07 L295.50,395.05 L295.66,399.03 L295.82,403.02 L295.98,407.00 L296.14,410.98 L295.34,411.02 L295.18,407.03 L295.02,403.05 L294.86,399.07 L294.70,395.08 L294.54,391.10 L294.35,387.13 L294.03,383.15 L293.71,379.17 L293.37,375.19 L293.02,371.21 L292.67,367.23 L292.32,363.25 L291.96,359.26 L291.60,355.28 L291.24,351.30 L290.90,347.32 L290.57,343.34 L290.24,339.35 L289.91,335.37 L289.58,331.40 L289.16,327.43 L288.68,323.46 L288.20,319.48 L287.72,315.50 L287.24,311.52 L286.76,307.54 L286.28,303.56 L285.79,299.59 L285.20,295.62 L284.61,291.64 L284.02,287.66 L283.47,283.68 L282.91,279.70 L282.35,275.72 L281.79,271.76 L281.04,267.81 L280.15,263.85 L279.25,259.86 L278.35,255.88 L277.46,251.90 L276.56,247.91 L275.67,243.93 L274.76,239.96 L273.74,236.00 L272.71,232.01 L271.69,228.03 L270.66,224.05 L269.63,220.06 L268.61,216.08 L267.58,212.10 L266.51,208.13 L265.38,204.16 L264.24,200.17 L263.10,196.19 L261.96,192.21 L260.82,188.22 L259.68,184.24 L258.55,180.26 L257.41,176.27 Z"/>
<path d="M275.98,175.84 L276.65,179.82 L277.31,183.80 L277.98,187.78 L278.64,191.77 L279.31,195.75 L279.97,199.73 L280.64,203.72 L281.31,207.70 L281.93,211.70 L282.53,215.68 L283.13,219.66 L283.73,223.65 L284.33,227.63 L284.93,231.61 L285.53,235.60 L286.13,239.59 L286.66,243.58 L287.18,247.57 L287.70,251.55 L288.22,255.53 L288.74,259.51 L289.26,263.50 L289.79,267.49 L290.23,271.50 L290.55,275.50 L290.87,279.48 L291.19,283.46 L291.51,287.45 L291.80,291.43 L292.09,295.42 L292.38,299.41 L292.61,303.40 L292.84,307.39 L293.07,311.37 L293.30,315.36 L293.53,319.34 L293.76,323.33 L293.99,327.31 L294.19,331.30 L294.34,335.29 L294.49,339.28 L294.64,343.26 L294.78,347.24 L294.94,351.23 L295.10,355.21 L295.26,359.20 L295.42,363.18 L295.58,367.16 L295.73,371.15 L295.88,375.13 L296.03,379.12 L296.20,383.10 L296.38,387.09 L296.48,391.08 L296.56,395.06 L296.65,399.04 L296.73,403.03 L296.81,407.01 L296.89,410.99 L296.09,411.01 L296.01,407.03 L295.93,403.04 L295.85,399.06 L295.76,395.08 L295.68,391.09 L295.58,387.12 L295.41,383.14 L295.22,379.15 L295.02,375.17 L294.82,371.19 L294.62,367.21 L294.41,363.23 L294.20,359.25 L293.99,355.26 L293.78,351.28 L293.58,347.30 L293.38,343.31 L293.19,339.33 L293.00,335.35 L292.81,331.37 L292.56,327.40 L292.27,323.42 L291.99,319.44 L291.71,315.46 L291.42,311.48 L291.14,307.50 L290.86,303.51 L290.57,299.54 L290.22,295.57 L289.87,291.59 L289.52,287.61 L289.20,283.62 L288.88,279.64 L288.56,275.66 L288.24,271.69 L287.80,267.73 L287.28,263.76 L286.76,259.77 L286.24,255.79 L285.72,251.81 L285.20,247.82 L284.67,243.84 L284.15,239.87 L283.55,235.89 L282.95,231.91 L282.35,227.93 L281.75,223.95 L281.16,219.96 L280.56,215.98 L279.96,212.00 L279.33,208.02 L278.67,204.05 L278.00,200.06 L277.34,196.08 L276.67,192.10 L276.01,188.11 L275.34,184.13 L274.67,180.15 L274.01,176.16 Z"/>
<path d="M291.62,175.94 L291.84,179.93 L292.06,183.91 L292.28,187.89 L292.51,191.88 L292.73,195.86 L292.95,199.84 L293.17,203.83 L293.39,207.81 L293.60,211.80 L293.80,215.78 L293.99,219.76 L294.19,223.75 L294.39,227.73 L294.58,231.71 L294.78,235.70 L294.98,239.68 L295.15,243.67 L295.32,247.65 L295.49,251.64 L295.66,255.62 L295.82,259.60 L295.99,263.58 L296.16,267.57 L296.30,271.56 L296.40,275.55 L296.49,279.54 L296.59,283.52 L296.68,287.50 L296.75,291.49 L296.81,295.47 L296.87,299.46 L296.92,303.44 L296.97,307.43 L297.01,311.41 L297.06,315.39 L297.10,319.38 L297.14,323.36 L297.19,327.34 L297.22,331.33 L297.24,335.32 L297.26,339.30 L297.28,343.28 L297.30,347.26 L297.32,351.25 L297.34,355.23 L297.36,359.21 L297.39,363.20 L297.41,367.18 L297.43,371.16 L297.44,375.15 L297.46,379.13 L297.50,383.11 L297.54,387.10 L297.55,391.08 L297.56,395.07 L297.57,399.05 L297.58,403.03 L297.59,407.02 L297.59,411.00 L296.80,411.00 L296.79,407.02 L296.78,403.03 L296.77,399.05 L296.76,395.07 L296.75,391.09 L296.74,387.10 L296.70,383.12 L296.65,379.14 L296.58,375.16 L296.51,371.17 L296.44,367.19 L296.37,363.21 L296.30,359.23 L296.23,355.24 L296.16,351.26 L296.09,347.28 L296.03,343.29 L295.97,339.31 L295.91,335.33 L295.85,331.35 L295.76,327.37 L295.66,323.39 L295.56,319.40 L295.46,315.42 L295.36,311.44 L295.26,307.46 L295.16,303.47 L295.06,299.49 L294.93,295.51 L294.81,291.53 L294.68,287.55 L294.59,283.57 L294.49,279.58 L294.40,275.60 L294.30,271.62 L294.16,267.65 L293.99,263.67 L293.83,259.69 L293.66,255.70 L293.49,251.72 L293.32,247.74 L293.15,243.75 L292.98,239.77 L292.78,235.80 L292.59,231.81 L292.39,227.83 L292.19,223.85 L292.00,219.86 L291.80,215.88 L291.60,211.90 L291.39,207.92 L291.17,203.94 L290.95,199.95 L290.73,195.97 L290.51,191.99 L290.29,188.00 L290.07,184.02 L289.85,180.04 L289.62,176.06 Z"/>
<path d="M309.57,176.07 L309.29,180.06 L309.00,184.04 L308.71,188.02 L308.42,192.00 L308.13,195.99 L307.84,199.97 L307.55,203.95 L307.26,207.94 L306.99,211.92 L306.72,215.90 L306.46,219.88 L306.19,223.86 L305.93,227.85 L305.66,231.83 L305.40,235.81 L305.13,239.79 L304.90,243.77 L304.66,247.75 L304.42,251.74 L304.19,255.72 L303.95,259.70 L303.71,263.69 L303.48,267.67 L303.27,271.64 L303.11,275.62 L302.95,279.60 L302.78,283.58 L302.62,287.57 L302.43,291.55 L302.23,295.53 L302.04,299.51 L301.87,303.49 L301.70,307.47 L301.54,311.45 L301.37,315.43 L301.20,319.42 L301.03,323.40 L300.87,327.38 L300.71,331.36 L300.58,335.34 L300.45,339.32 L300.32,343.31 L300.19,347.29 L300.06,351.27 L299.92,355.25 L299.78,359.24 L299.64,363.22 L299.50,367.20 L299.37,371.18 L299.23,375.16 L299.09,379.15 L298.98,383.13 L298.87,387.11 L298.78,391.09 L298.71,395.08 L298.63,399.06 L298.56,403.04 L298.48,407.02 L298.40,411.01 L297.61,410.99 L297.68,407.01 L297.76,403.03 L297.83,399.04 L297.91,395.06 L297.98,391.08 L298.07,387.09 L298.18,383.11 L298.28,379.12 L298.37,375.14 L298.45,371.16 L298.54,367.17 L298.63,363.19 L298.72,359.21 L298.81,355.22 L298.90,351.24 L298.98,347.25 L299.07,343.27 L299.16,339.29 L299.25,335.30 L299.33,331.32 L299.44,327.33 L299.55,323.35 L299.66,319.36 L299.77,315.38 L299.88,311.39 L300.00,307.41 L300.11,303.43 L300.23,299.44 L300.36,295.45 L300.49,291.47 L300.62,287.48 L300.78,283.50 L300.95,279.52 L301.11,275.54 L301.27,271.55 L301.48,267.55 L301.72,263.57 L301.95,259.58 L302.19,255.60 L302.43,251.62 L302.66,247.64 L302.90,243.65 L303.14,239.67 L303.40,235.68 L303.67,231.70 L303.93,227.71 L304.20,223.73 L304.46,219.75 L304.73,215.76 L304.99,211.78 L305.27,207.79 L305.56,203.81 L305.85,199.83 L306.13,195.84 L306.42,191.86 L306.71,187.88 L307.00,183.89 L307.29,179.91 L307.58,175.93 Z"/>
<path d="M325.19,176.18 L324.46,180.16 L323.72,184.15 L322.99,188.13 L322.25,192.11 L321.52,196.10 L320.79,200.08 L320.05,204.06 L319.32,208.04 L318.63,212.02 L317.96,216.00 L317.30,219.98 L316.63,223.96 L315.96,227.94 L315.30,231.93 L314.63,235.91 L313.96,239.89 L313.37,243.86 L312.78,247.84 L312.19,251.82 L311.60,255.81 L311.01,259.79 L310.43,263.77 L309.84,267.75 L309.33,271.70 L308.95,275.67 L308.56,279.66 L308.17,283.64 L307.78,287.62 L307.37,291.60 L306.95,295.58 L306.53,299.56 L306.17,303.53 L305.82,307.51 L305.47,311.49 L305.12,315.47 L304.77,319.45 L304.42,323.43 L304.06,327.41 L303.74,331.38 L303.49,335.36 L303.23,339.34 L302.97,343.33 L302.71,347.31 L302.44,351.29 L302.16,355.27 L301.89,359.25 L301.61,363.24 L301.33,367.22 L301.06,371.20 L300.79,375.18 L300.52,379.16 L300.27,383.14 L300.03,387.12 L299.86,391.10 L299.71,395.08 L299.56,399.07 L299.41,403.05 L299.26,407.03 L299.11,411.01 L298.31,410.99 L298.46,407.00 L298.61,403.02 L298.76,399.04 L298.91,395.05 L299.06,391.07 L299.23,387.08 L299.47,383.09 L299.71,379.11 L299.93,375.13 L300.14,371.14 L300.37,367.16 L300.59,363.17 L300.82,359.19 L301.05,355.20 L301.28,351.22 L301.50,347.23 L301.72,343.25 L301.93,339.27 L302.15,335.28 L302.37,331.29 L302.64,327.30 L302.93,323.31 L303.23,319.33 L303.53,315.34 L303.82,311.36 L304.12,307.37 L304.42,303.39 L304.72,299.39 L305.08,295.40 L305.44,291.41 L305.79,287.43 L306.18,283.45 L306.57,279.46 L306.96,275.48 L307.35,271.48 L307.86,267.47 L308.45,263.48 L309.04,259.50 L309.63,255.51 L310.21,251.53 L310.80,247.55 L311.39,243.56 L311.99,239.57 L312.66,235.58 L313.32,231.60 L313.99,227.61 L314.66,223.63 L315.32,219.65 L315.99,215.67 L316.66,211.68 L317.35,207.69 L318.09,203.70 L318.82,199.72 L319.55,195.73 L320.29,191.75 L321.02,187.77 L321.75,183.79 L322.49,179.80 L323.22,175.82 Z"/>
<path d="M341.79,176.29 L340.58,180.27 L339.38,184.26 L338.17,188.24 L336.96,192.22 L335.76,196.21 L334.55,200.19 L333.35,204.17 L332.14,208.15 L331.00,212.12 L329.91,216.10 L328.82,220.08 L327.72,224.06 L326.63,228.04 L325.53,232.03 L324.44,236.01 L323.35,239.98 L322.38,243.95 L321.41,247.93 L320.45,251.91 L319.49,255.90 L318.52,259.88 L317.56,263.86 L316.60,267.83 L315.78,271.77 L315.15,275.73 L314.53,279.71 L313.90,283.70 L313.27,287.68 L312.62,291.66 L311.96,295.64 L311.30,299.61 L310.75,303.57 L310.20,307.55 L309.65,311.53 L309.11,315.51 L308.56,319.49 L308.01,323.47 L307.47,327.44 L306.97,331.41 L306.57,335.38 L306.18,339.37 L305.78,343.35 L305.38,347.33 L304.97,351.31 L304.55,355.29 L304.12,359.27 L303.70,363.25 L303.27,367.23 L302.85,371.21 L302.44,375.19 L302.03,379.17 L301.64,383.16 L301.26,387.13 L301.00,391.11 L300.77,395.09 L300.54,399.07 L300.31,403.06 L300.09,407.04 L299.86,411.02 L299.06,410.98 L299.29,406.99 L299.51,403.01 L299.74,399.03 L299.97,395.05 L300.20,391.06 L300.46,387.07 L300.85,383.08 L301.22,379.10 L301.58,375.11 L301.94,371.13 L302.31,367.14 L302.69,363.15 L303.06,359.17 L303.44,355.18 L303.82,351.20 L304.18,347.21 L304.53,343.23 L304.89,339.24 L305.24,335.26 L305.60,331.27 L306.05,327.27 L306.54,323.28 L307.03,319.29 L307.52,315.30 L308.02,311.32 L308.51,307.33 L309.00,303.34 L309.51,299.34 L310.11,295.35 L310.70,291.36 L311.30,287.37 L311.93,283.39 L312.55,279.40 L313.18,275.42 L313.81,271.41 L314.65,267.39 L315.61,263.39 L316.58,259.41 L317.54,255.43 L318.51,251.44 L319.47,247.46 L320.44,243.48 L321.41,239.48 L322.51,235.48 L323.60,231.50 L324.70,227.51 L325.79,223.53 L326.89,219.55 L327.98,215.57 L329.08,211.58 L330.22,207.58 L331.43,203.59 L332.64,199.61 L333.84,195.63 L335.05,191.64 L336.25,187.66 L337.46,183.68 L338.67,179.69 L339.87,175.71 Z"/>
<path d="M357.05,176.38 L355.41,180.36 L353.77,184.35 L352.13,188.33 L350.49,192.31 L348.85,196.30 L347.20,200.28 L345.56,204.26 L343.93,208.24 L342.38,212.20 L340.90,216.18 L339.41,220.16 L337.92,224.15 L336.43,228.13 L334.94,232.11 L333.46,236.10 L331.97,240.06 L330.66,244.03 L329.35,248.01 L328.04,251.99 L326.73,255.97 L325.42,259.96 L324.11,263.94 L322.81,267.90 L321.70,271.83 L320.86,275.78 L320.02,279.77 L319.17,283.75 L318.32,287.73 L317.45,291.71 L316.57,295.69 L315.70,299.65 L314.95,303.61 L314.23,307.59 L313.50,311.57 L312.78,315.55 L312.05,319.52 L311.32,323.50 L310.59,327.47 L309.94,331.44 L309.42,335.41 L308.89,339.39 L308.37,343.37 L307.84,347.35 L307.30,351.33 L306.74,355.31 L306.18,359.29 L305.62,363.27 L305.06,367.25 L304.51,371.23 L303.97,375.21 L303.42,379.19 L302.90,383.17 L302.39,387.14 L302.04,391.12 L301.74,395.10 L301.45,399.08 L301.15,403.06 L300.85,407.05 L300.55,411.03 L299.75,410.97 L300.05,406.99 L300.35,403.00 L300.65,399.02 L300.95,395.04 L301.25,391.05 L301.59,387.06 L302.11,383.07 L302.62,379.08 L303.11,375.10 L303.60,371.11 L304.10,367.12 L304.61,363.14 L305.12,359.15 L305.64,355.16 L306.15,351.18 L306.65,347.19 L307.13,343.21 L307.61,339.22 L308.09,335.24 L308.57,331.24 L309.18,327.24 L309.86,323.24 L310.53,319.26 L311.20,315.27 L311.87,311.28 L312.55,307.29 L313.22,303.30 L313.92,299.30 L314.74,295.30 L315.55,291.31 L316.37,287.32 L317.21,283.33 L318.06,279.35 L318.91,275.37 L319.76,271.35 L320.90,267.32 L322.21,263.31 L323.52,259.33 L324.83,255.35 L326.14,251.37 L327.45,247.38 L328.76,243.40 L330.09,239.40 L331.58,235.40 L333.07,231.41 L334.56,227.43 L336.05,223.45 L337.54,219.46 L339.02,215.48 L340.51,211.49 L342.07,207.49 L343.71,203.50 L345.36,199.52 L347.00,195.53 L348.64,191.55 L350.28,187.57 L351.92,183.59 L353.56,179.60 L355.20,175.62 Z"/>
<path d="M367.45,176.65 L365.53,180.64 L363.60,184.62 L361.68,188.60 L359.75,192.58 L357.83,196.57 L355.90,200.55 L353.98,204.53 L352.06,208.50 L350.26,212.46 L348.52,216.43 L346.77,220.42 L345.03,224.40 L343.28,228.38 L341.54,232.36 L339.79,236.35 L338.06,240.30 L336.52,244.25 L334.99,248.23 L333.46,252.22 L331.92,256.20 L330.39,260.18 L328.85,264.17 L327.33,268.12 L326.04,272.01 L325.07,275.94 L324.08,279.92 L323.09,283.90 L322.10,287.89 L321.11,291.87 L320.12,295.85 L319.12,299.81 L318.27,303.76 L317.44,307.73 L316.61,311.71 L315.78,315.69 L314.95,319.67 L314.12,323.65 L313.29,327.62 L312.55,331.56 L311.96,335.52 L311.36,339.50 L310.77,343.48 L310.17,347.47 L309.56,351.46 L308.92,355.44 L308.28,359.42 L307.65,363.40 L307.01,367.38 L306.39,371.36 L305.78,375.34 L305.17,379.32 L304.56,383.30 L303.96,387.26 L303.55,391.20 L303.20,395.17 L302.85,399.16 L302.50,403.14 L302.15,407.12 L301.80,411.10 L299.40,410.90 L299.74,406.91 L300.08,402.93 L300.42,398.95 L300.77,394.96 L301.11,390.97 L301.51,386.95 L302.10,382.93 L302.69,378.95 L303.28,374.96 L303.87,370.98 L304.47,366.99 L305.09,363.00 L305.71,359.02 L306.32,355.03 L306.94,351.05 L307.53,347.07 L308.10,343.09 L308.68,339.11 L309.26,335.12 L309.84,331.11 L310.57,327.09 L311.38,323.09 L312.18,319.11 L312.98,315.12 L313.79,311.13 L314.59,307.15 L315.40,303.16 L316.23,299.14 L317.21,295.13 L318.20,291.15 L319.19,287.16 L320.18,283.18 L321.17,279.20 L322.16,275.21 L323.16,271.18 L324.51,267.10 L326.05,263.09 L327.59,259.10 L329.12,255.12 L330.66,251.14 L332.19,247.16 L333.73,243.17 L335.29,239.16 L337.04,235.14 L338.79,231.16 L340.53,227.18 L342.28,223.19 L344.02,219.21 L345.77,215.23 L347.52,211.24 L349.35,207.23 L351.28,203.23 L353.20,199.25 L355.13,195.26 L357.05,191.28 L358.98,187.30 L360.90,183.31 L362.83,179.33 L364.75,175.35 Z"/>
</g>
<path d="M299.6,177 L299.6,256" stroke="#000" fill="none" stroke-width="2" stroke-dasharray="7,3.5"/>
<g fill="none" stroke="#000" stroke-width="2">
<path d="M302.9,60 L302.9,38"/>
<path d="M302,255.4 L334,255.8" stroke-dasharray="5,4"/>
<path d="M334,255.8 L462,257.5"/>
<path d="M301.7,255.6 L271,268.6" stroke-dasharray="5,3.5"/>
<path d="M271,268.6 L193,305"/>
</g><g fill="#000" stroke="none">
<path d="M302.9,31 L308,40.5 L302.9,39 L297.8,40.5 Z"/>
<path d="M471,257.8 L461,262.8 L462.5,257.6 L461,252.8 Z"/>
<path d="M187.2,307.8 L194.2,299.1 L194.5,304.4 L198.4,308.1 Z"/>
</g>
</svg>

<div class="t" style="left:334px;top:14px;font-size:38.7px;">Black hole</div>
<div class="t" style="left:311px;top:385px;font-size:38.6px;">Singularity</div>
<div class="t it lb" style="left:299px;top:7px;font-size:21px;">z</div>
<div class="t it lb" style="left:478.5px;top:247px;font-size:21px;">y</div>
<div class="t it lb" style="left:172.5px;top:298.5px;font-size:21px;">x</div>

</body></html>
